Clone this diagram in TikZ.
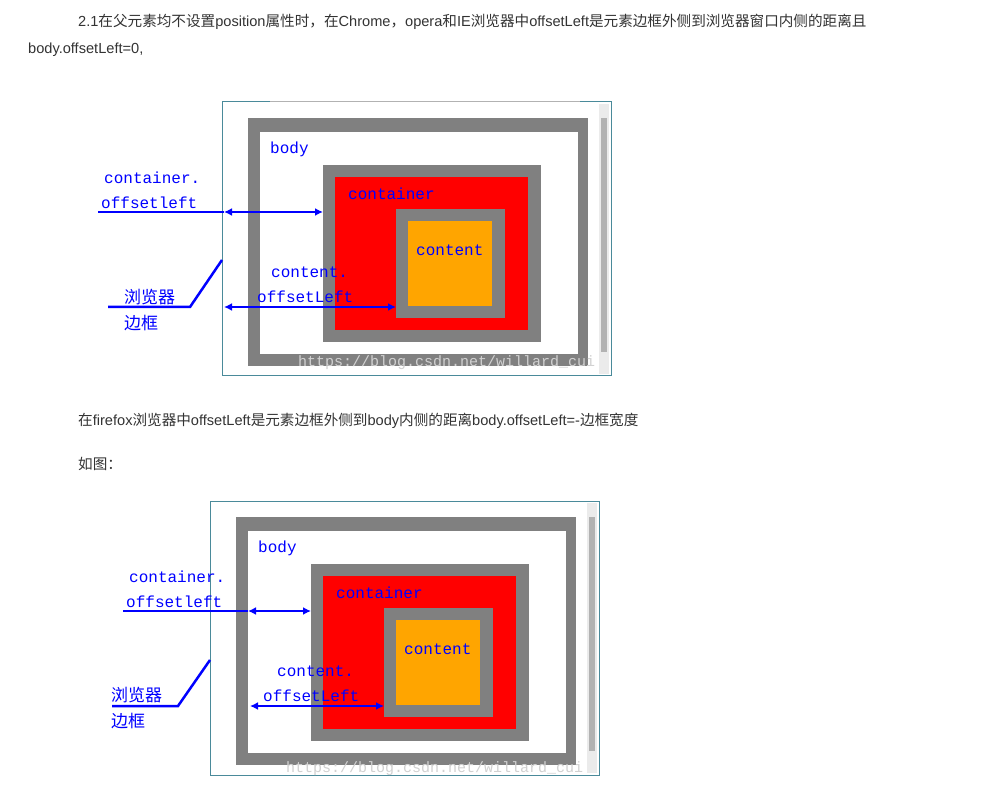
\documentclass[tikz,border=0pt]{standalone}
\usepackage{fontspec}
\setmainfont{Liberation Sans}
\newfontfamily\cjk{Noto Sans CJK SC}
\newfontfamily\lat{Liberation Sans}
\newfontfamily\mono{Liberation Mono}
\newcommand\LL[1]{{\lat #1}}
\usetikzlibrary{arrows.meta}
\definecolor{txt}{HTML}{333333}
\definecolor{bdr}{HTML}{808080}
\definecolor{lbl}{HTML}{0000FF}
\definecolor{orng}{HTML}{FFA500}
\definecolor{frm}{HTML}{4A8A9A}
\tikzset{
  ptext/.style={anchor=west,inner sep=0,text=txt,font=\cjk\fontsize{14.6}{16}\selectfont},
  blab/.style={anchor=west,inner sep=0,text=lbl,font=\mono\fontsize{16}{18}\selectfont},
  clab/.style={anchor=west,inner sep=0,text=lbl,font=\cjk\fontsize{17}{18}\selectfont},
  wm/.style={anchor=west,inner sep=0,text=black!18,font=\mono\fontsize{15}{16}\selectfont},
  lead/.style={draw=lbl,line width=2.5pt},
  meas/.style={draw=lbl,line width=2.5pt,{Latex[length=8pt,width=8pt]}-{Latex[length=8pt,width=8pt]}},
}
\begin{document}
\begin{tikzpicture}[x=1pt,y=-1pt]
\useasboundingbox (0,0) rectangle (999,794);
\fill[white] (0,0) rectangle (999,794);
\node[ptext] (t1) at (78,22) {\LL{2.1}在父元素均不设置\LL{position}属性时，在\LL{Chrome}，\LL{opera}和\LL{IE}浏览器中\LL{offsetLeft}是元素边框外侧到浏览器窗口内侧的距离且};
\node[ptext] (t2) at (28,50) {\LL{body.offsetLeft=0,}};
\node[ptext] (t3) at (78,421) {在\LL{firefox}浏览器中\LL{offsetLeft}是元素边框外侧到\LL{body}内侧的距离\LL{body.offsetLeft=-}边框宽度};
\node[ptext] (t4) at (78,464) {如图：};

% ---------- top diagram ----------
\begin{scope}
\fill[white] (222,102) rectangle (611,376);
\draw[frm,line width=1pt] (222,102) rectangle (611,376);
\draw[black!30,line width=1pt] (270,102) -- (580,102);
\fill[black!8] (599,104) rectangle (609,374);
\fill[black!30] (601,118) rectangle (607,352);
\fill[bdr] (248,118) rectangle (588,366);
\fill[white] (260,132) rectangle (578,354);
\fill[bdr] (323,165) rectangle (541,342);
\fill[red] (335,177) rectangle (528,330);
\fill[bdr] (396,209) rectangle (505,318);
\fill[orng] (408,221) rectangle (492,306);
\node[blab] (body1) at (270,149) {body};
\node[blab] (cont1) at (348,194) {container};
\node[blab] (ctnt1) at (416,250) {content};
\node[blab] (cl1a) at (104,178) {container.};
\node[blab] (cl1b) at (101,203) {offsetleft};
\node[blab] (tl1a) at (271,272) {content.};
\node[blab] (tl1b) at (257,297) {offsetLeft};
\node[clab] (bw1a) at (124,297) {浏览器};
\node[clab] (bw1b) at (124,323) {边框};
\coordinate (w1a) at (224,212); \coordinate (c1a) at (323,212);
\coordinate (w1b) at (224,307); \coordinate (c1b) at (396,307);
\draw[lead] (98,212) -- (w1a);
\draw[meas] (w1a) -- (c1a);
\draw[lead] (108,307) -- (190,307) -- (222,260);
\draw[meas] (w1b) -- (c1b);
\node[wm] (wm1) at (298,363) {https://blog.csdn.net/willard\_cui};
\end{scope}

% ---------- bottom diagram ----------
\begin{scope}
\fill[white] (210,501) rectangle (599,775);
\draw[frm,line width=1pt] (210,501) rectangle (599,775);
\fill[black!8] (587,503) rectangle (597,773);
\fill[black!30] (589,517) rectangle (595,751);
\fill[bdr] (236,517) rectangle (576,765);
\fill[white] (248,531) rectangle (566,753);
\fill[bdr] (311,564) rectangle (529,741);
\fill[red] (323,576) rectangle (516,729);
\fill[bdr] (384,608) rectangle (493,717);
\fill[orng] (396,620) rectangle (480,705);
\node[blab] (body2) at (258,548) {body};
\node[blab] (cont2) at (336,593) {container};
\node[blab] (ctnt2) at (404,649) {content};
\node[blab] (cl2a) at (129,577) {container.};
\node[blab] (cl2b) at (126,602) {offsetleft};
\node[blab] (tl2a) at (277,671) {content.};
\node[blab] (tl2b) at (263,696) {offsetLeft};
\node[clab] (bw2a) at (111,695) {浏览器};
\node[clab] (bw2b) at (111,721) {边框};
\coordinate (w2a) at (212,611); \coordinate (b2a) at (248,611); \coordinate (c2a) at (311,611);
\coordinate (w2b) at (250,706); \coordinate (c2b) at (384,706);
\draw[lead] (123,611) -- (b2a);
\draw[meas] (b2a) -- (c2a);
\draw[lead] (112,706) -- (178,706) -- (210,660);
\draw[meas] (w2b) -- (c2b);
\node[wm] (wm2) at (286,769) {https://blog.csdn.net/willard\_cui};
\end{scope}
\end{tikzpicture}
\end{document}
